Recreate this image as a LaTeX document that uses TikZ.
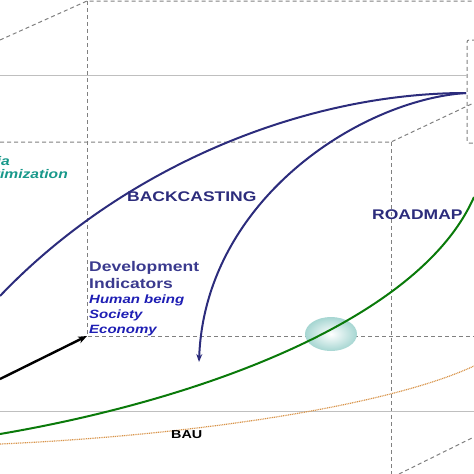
\documentclass[tikz,border=0pt]{standalone}
\usepackage{fontspec}
\setmainfont{Liberation Sans}[FakeStretch=1.25]
\usetikzlibrary{arrows.meta}
\definecolor{navy}{HTML}{2C2C7C}
\definecolor{devblue}{HTML}{3A3A8E}
\definecolor{itblue}{HTML}{1E1EB4}
\definecolor{tealtxt}{HTML}{17988A}
\definecolor{roadgreen}{HTML}{0A7A0A}
\definecolor{bauorange}{HTML}{D8944A}
\definecolor{ballteal}{HTML}{A6D6D2}
\begin{document}
\begin{tikzpicture}[x=1pt,y=-1pt,
    guide/.style={black!50, dash pattern=on 4pt off 3pt, line width=1pt},
    level/.style={black!25, line width=1pt},
    word/.style={anchor=base west, inner sep=0pt, font=\bfseries}]
  \useasboundingbox (0,0) rectangle (474,474);
  \clip (0,0) rectangle (474,474);

  % box edges
  \draw[guide] (0,40) -- (87,1) -- (480,1);
  \draw[guide] (87,1) -- (87,336) -- (480,336);
  \draw[guide] (0,142) -- (391,142) -- (480,100);
  \draw[guide] (391,142) -- (391,480);
  \draw[guide] (399,474) -- (480,434);
  \draw[guide, rounded corners=2pt] (490,40) -- (467,40) -- (467,143) -- (490,143);
  \draw[level] (0,75) -- (467,75);
  \draw[level] (0,411) -- (474,411);

  \shade[inner color=white, outer color=ballteal] (331,334) ellipse [x radius=26pt, y radius=17pt];

  \coordinate (goal) at (466,93);
  \coordinate (now) at (0,296);
  \coordinate (back) at (199,362);
  \coordinate (road) at (0,434);
  \coordinate (roadend) at (474,197);
  \coordinate (bau) at (0,444);
  \coordinate (bauend) at (474,366);
  \coordinate (push) at (0,379);
  \coordinate (corner) at (87,336);

  \begin{scope}[line width=2pt]
    \draw[navy] (now) .. controls (120,170) and (300,93) .. (goal);
    \draw[navy, -{Stealth[length=8pt,width=6pt]}] (goal) .. controls (360,100) and (205,200) .. (back);
    \draw[roadgreen] (road) .. controls (200,400) and (420,320) .. (roadend);
    \draw[black, -{Stealth[length=9pt,width=7pt]}, line width=2.4pt] (push) -- (corner);
  \end{scope}
  \draw[bauorange, line width=1.2pt, dash pattern=on 1pt off 0.8pt] (bau) .. controls (200,435) and (390,405) .. (bauend);

  \path
    (10,165) node[word, anchor=base east, font=\bfseries\itshape, text=tealtxt] (crit) {\fontsize{12.5}{14}\selectfont Criteria}
    (68,178) node[word, anchor=base east, font=\bfseries\itshape, text=tealtxt] (opt) {\fontsize{12.5}{14}\selectfont Optimization}
    (127,201) node[word, text=navy] (bc) {\fontsize{14}{16}\selectfont BACKCASTING}
    (372,219) node[word, text=navy] (rm) {\fontsize{14}{16}\selectfont ROADMAP}
    (171,438) node[word, text=black] (bautxt) {\fontsize{11.5}{13}\selectfont BAU}
    (89,271) node[word, text=devblue] (dev) {\fontsize{14}{16}\selectfont Development}
    (89,288) node[word, text=devblue] (ind) {\fontsize{14}{16}\selectfont Indicators}
    (89,303) node[word, font=\bfseries\itshape, text=itblue] (human) {\fontsize{12}{14}\selectfont Human being}
    (89,318) node[word, font=\bfseries\itshape, text=itblue] (soc) {\fontsize{12}{14}\selectfont Society}
    (89,333) node[word, font=\bfseries\itshape, text=itblue] (eco) {\fontsize{12}{14}\selectfont Economy};
\end{tikzpicture}
\end{document}
